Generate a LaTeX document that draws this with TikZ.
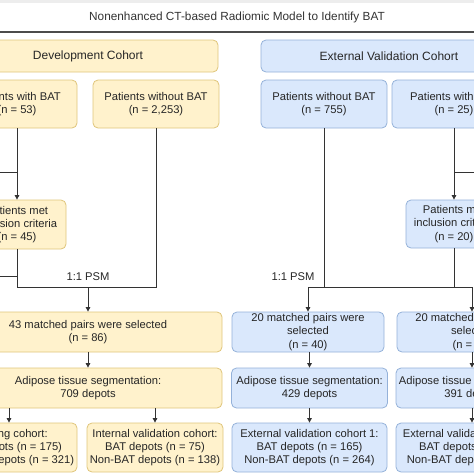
\documentclass[tikz,border=0pt]{standalone}
\usepackage{fontspec}
\setmainfont{Liberation Sans}
\usetikzlibrary{arrows.meta}

\definecolor{devfill}{HTML}{FFF2CC}
\definecolor{devline}{HTML}{DFC57A}
\definecolor{valfill}{HTML}{DAE8FC}
\definecolor{valline}{HTML}{94B1D9}
\definecolor{wirecol}{HTML}{333333}

\tikzset{
  devbox/.style={draw=devline, fill=devfill, rounded corners=5pt, line width=0.8pt,
    align=center, inner sep=0pt, text=black!85, font=\fontsize{11.2}{13.3}\selectfont},
  valbox/.style={devbox, draw=valline, fill=valfill},
  headfont/.style={font=\fontsize{12}{14}\selectfont},
  boxsize/.style 2 args={minimum width=#1pt, minimum height=#2pt},
  wire/.style={draw=wirecol, line width=0.9pt},
  arr/.style={wire, -{Triangle[length=4.5pt,width=4.5pt]}},
  psm/.style={text=black!85, font=\fontsize{11.2}{13.3}\selectfont}
}

\begin{document}
\begin{tikzpicture}[x=1pt, y=-1pt]

    % Fix the page size
    \useasboundingbox (0,0) rectangle (474,474);

    % Draw the title strip
    \fill[black!7] (0,0) rectangle (474,2.5);
    \node[text=black!80, font=\fontsize{11.8}{14}\selectfont] (title) at (237,17)
      {Nonenhanced CT-based Radiomic Model to Identify BAT};
    \draw[line width=1.2pt, black!70] (0,32) -- (474,32);

    % Development cohort
    \node[devbox, headfont, boxsize={260}{32}] (devHead) at (88,56) {Development Cohort};
    \node[devbox, boxsize={120}{48}] (withL) at (17,104) {Patients with BAT\\(n = 53)};
    \node[devbox, boxsize={126}{48}] (withoutL) at (156,104) {Patients without BAT\\(n = 2,253)};
    \node[devbox, boxsize={98}{49}] (metL) at (17,224.5) {Patients met\\inclusion criteria\\(n = 45)};
    \node[devbox, boxsize={268}{40}] (pairsL) at (88,332) {43 matched pairs were selected\\(n = 86)};
    \node[devbox, boxsize={268}{40}] (segL) at (88,388) {Adipose tissue segmentation:\\709 depots};
    \node[devbox, boxsize={136}{49}] (trainL) at (9,447.5)
      {Training cohort:\\BAT depots (n = 175)\\Non-BAT depots (n = 321)};
    \node[devbox, boxsize={136}{49}] (intL) at (155,447.5)
      {Internal validation cohort:\\BAT depots (n = 75)\\Non-BAT depots (n = 138)};

    % External validation cohort
    \node[valbox, headfont, boxsize={256}{32}] (valHead) at (389,56) {External Validation Cohort};
    \node[valbox, boxsize={126}{48}] (withoutR) at (324,104) {Patients without BAT\\(n = 755)};
    \node[valbox, boxsize={124}{48}] (withR) at (454,104) {Patients with BAT\\(n = 25)};
    \node[valbox, boxsize={96}{48}] (metR) at (454,224) {Patients met\\inclusion criteria\\(n = 20)};
    \node[valbox, boxsize={152}{40}] (pairsR1) at (308,332) {20 matched pairs were\\selected\\(n = 40)};
    \node[valbox, boxsize={150}{40}] (pairsR2) at (472,332) {20 matched pairs were\\selected\\(n = 40)};
    \node[valbox, boxsize={156}{40}] (segR1) at (309.5,388) {Adipose tissue segmentation:\\429 depots};
    \node[valbox, boxsize={152}{40}] (segR2) at (472,388) {Adipose tissue segmentation:\\391 depots};
    \node[valbox, boxsize={155}{49}] (extR1) at (309.5,447.5)
      {External validation cohort 1:\\BAT depots (n = 165)\\Non-BAT depots (n = 264)};
    \node[valbox, boxsize={152}{49}] (extR2) at (472,447.5)
      {External validation cohort 2:\\BAT depots (n = \phantom{000})\\Non-BAT depots (n = \phantom{000})};

    % Connectors of the development cohort
    \coordinate (exclL) at (-10,172);
    \coordinate (sideL) at (-10,276);
    \coordinate (psmL) at (88,287);
    \draw[arr] (withL) -- (metL);
    \draw[wire] (withL.south |- exclL) -- (exclL);
    \draw[wire] (sideL) -- (metL.south |- sideL);
    \draw[wire] (metL.south) |- (psmL);
    \draw[wire] (withoutL.south) |- (psmL);
    \draw[arr] (psmL) -- (pairsL);
    \draw[arr] (pairsL) -- (segL);
    \draw[arr] (segL.south -| trainL) -- (trainL);
    \draw[arr] (segL.south -| intL) -- (intL);
    \node[psm] (psmTextL) at (88,276.5) {1:1 PSM};

    % Connectors of the external validation cohort
    \coordinate (exclR) at (484,172);
    \coordinate (psmR) at (324,287);
    \draw[arr] (withR) -- (metR);
    \draw[wire] (withR.south |- exclR) -- (exclR);
    \draw[wire] (withoutR.south) -- (psmR);
    \draw[wire] (metR.south) -- (metR.south |- psmR);
    \draw[arr] (psmR) -| (pairsR1.north);
    \draw[arr] (psmR) -| (pairsR2.north);
    \draw[arr] (pairsR1.south -| segR1) -- (segR1);
    \draw[arr] (pairsR2) -- (segR2);
    \draw[arr] (segR1) -- (extR1);
    \draw[arr] (segR2) -- (extR2);
    \node[psm] (psmTextR) at (293,276.5) {1:1 PSM};

\end{tikzpicture}
\end{document}
